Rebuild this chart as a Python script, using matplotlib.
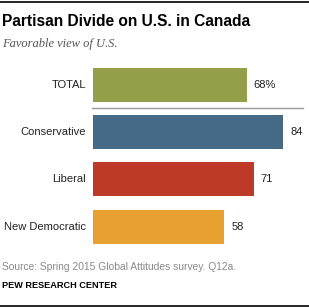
import matplotlib.pyplot as plt
from matplotlib.lines import Line2D

categories = ["TOTAL", "Conservative", "Liberal", "New Democratic"]
values = [68, 84, 71, 58]
value_labels = ["68%", "84", "71", "58"]
colors = ["#949F4A", "#466A86", "#BD3A28", "#E8A030"]

W, H = 309, 308
fig = plt.figure(figsize=(W / 100, H / 100), dpi=100)

def fx(px):
    return px / W

def fy(py):
    return 1 - py / H

# axes placed so that bars start at x=93px, 2.265 px per unit
ax = fig.add_axes([fx(93), fy(250.2), fx(95 * 2.265), 189 / H])
ax.set_xlim(0, 95)
ax.set_ylim(3.5, -0.5)
ax.axis("off")

ypos = list(range(len(categories)))
ax.barh(ypos, values, height=0.72, color=colors)

for y, v, lab, cat in zip(ypos, values, value_labels, categories):
    ax.text(v + 3.0, y, lab, va="center", ha="left", fontsize=8,
            family="Liberation Sans", color="#222222")
    ax.text(-3.0, y, cat, va="center", ha="right", fontsize=8,
            family="Liberation Sans", color="#222222")

# separator between total and parties
ax.add_line(Line2D([-0.45, 92.7], [0.5, 0.5], color="#999999", lw=1, clip_on=False))

# top and bottom rules
fig.add_artist(Line2D([0, 1], [fy(1.5), fy(1.5)], color="black", lw=1.2))
fig.add_artist(Line2D([0, 1], [fy(306), fy(306)], color="black", lw=1.2))

fig.text(fx(2), fy(22), "Partisan Divide on U.S. in Canada", fontsize=11.2,
         fontweight="bold", family="Liberation Sans", va="center", ha="left")
fig.text(fx(2), fy(44), "Favorable view of U.S.", fontsize=9, style="italic",
         family="Liberation Serif", color="#555555", va="center", ha="left")
fig.text(fx(2), fy(267), "Source: Spring 2015 Global Attitudes survey. Q12a.",
         fontsize=7.4, family="Liberation Sans", color="#8a8a8a", va="center", ha="left")
fig.text(fx(2), fy(286), "PEW RESEARCH CENTER", fontsize=6.6, fontweight="bold",
         family="Liberation Sans", color="black", va="center", ha="left")

fig.savefig("out.png", dpi=100)
